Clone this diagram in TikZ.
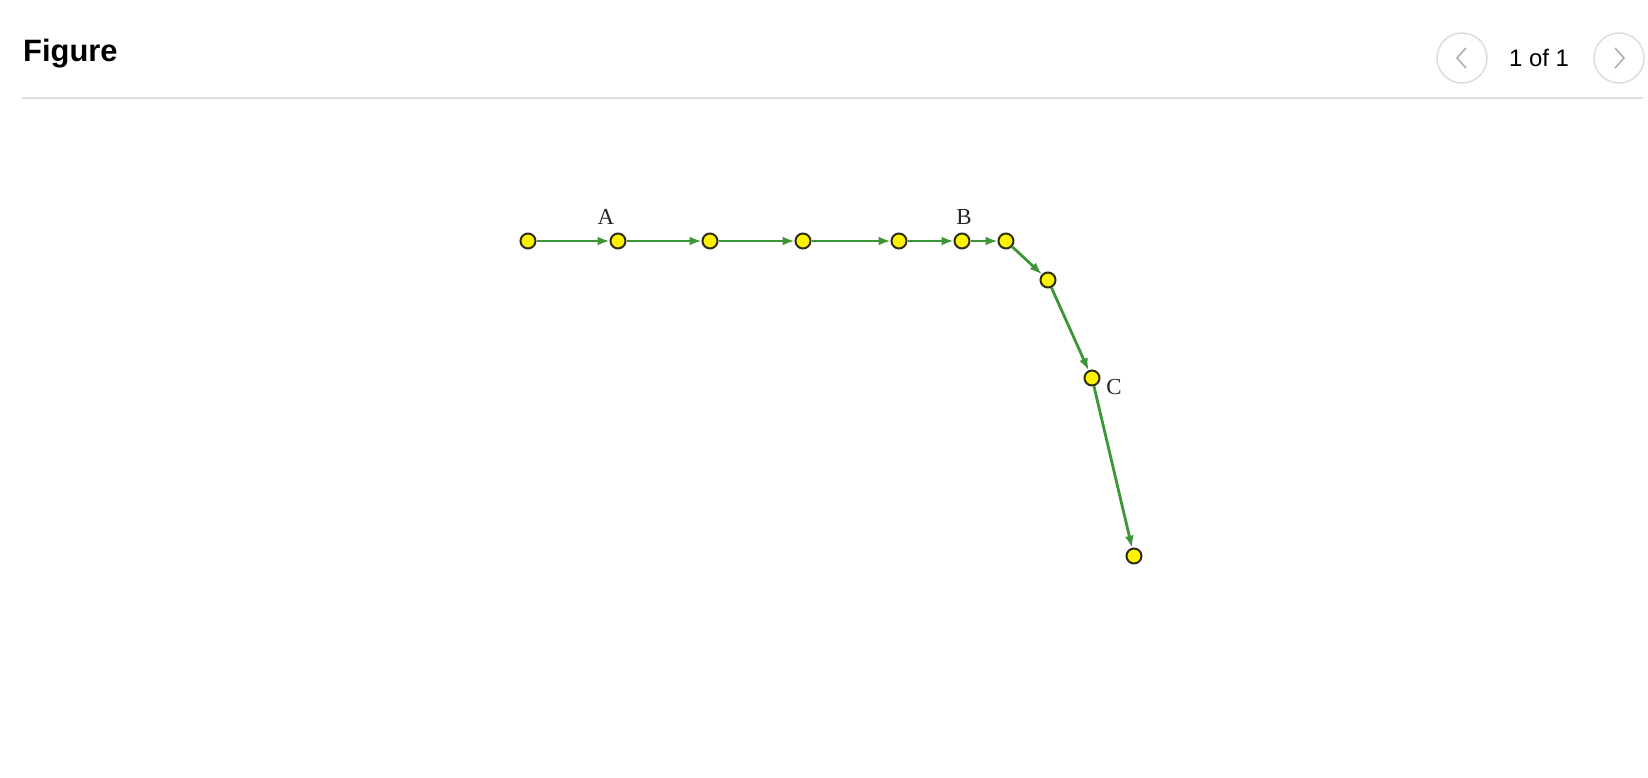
\documentclass[tikz,border=0pt]{standalone}
\usepackage{fontspec}
\setmainfont{Liberation Serif}
\newfontfamily\headfont{Liberation Sans}
\usepackage{tikz}
\usetikzlibrary{positioning,arrows.meta}
\definecolor{routegreen}{RGB}{60,150,56}
\definecolor{stopyellow}{RGB}{255,242,0}
\definecolor{stopedge}{RGB}{45,45,20}
\definecolor{rulegray}{RGB}{221,221,221}
\definecolor{chevgray}{RGB}{175,175,175}
\tikzstyle{waypoint}=[%
      circle, draw=stopedge, line width=2bp, fill=stopyellow,
      inner sep=0pt, minimum size=15bp
]
\tikzstyle{leg}=[%
      draw=routegreen, line width=2.8bp, -{Latex[length=12bp,width=9bp]}
]
\tikzstyle{tag}=[%
      inner sep=0pt, text=black!85, font=\fontsize{23}{23}\selectfont
]
\tikzstyle{pager}=[%
      circle, draw=rulegray, line width=1.5bp, minimum size=50bp, inner sep=0pt
]

\begin{document}
\begin{tikzpicture}[x=1bp, y=-1bp]
    \useasboundingbox[fill=white] (0,0) rectangle (1648,778);

    % header
    \node[anchor=base west, inner sep=0pt, font=\headfont\bfseries\fontsize{31}{31}\selectfont] (title) at (23,62) {Figure};
    \draw[rulegray, line width=1.5bp] (22,98) -- (1643,98);
    \node[pager] (prev) at (1462,58) {};
    \node[pager] (next) at (1619,58) {};
    \node[inner sep=0pt, font=\headfont\fontsize{24}{24}\selectfont] (count) at (1539,58) {1 of 1};
    \draw[chevgray, line width=1.6bp] ([shift={(4,-10)}]prev.center) -- ([shift={(-5,0)}]prev.center) -- ([shift={(4,10)}]prev.center);
    \draw[chevgray, line width=1.6bp] ([shift={(-4,-10)}]next.center) -- ([shift={(5,0)}]next.center) -- ([shift={(-4,10)}]next.center);

    % route
    \node[waypoint] (s1) at (528,241)  {};
    \node[waypoint] (s2) at (618,241)  {};
    \node[waypoint] (s3) at (710,241)  {};
    \node[waypoint] (s4) at (803,241)  {};
    \node[waypoint] (s5) at (899,241)  {};
    \node[waypoint] (s6) at (962,241)  {};
    \node[waypoint] (s7) at (1006,241) {};
    \node[waypoint] (s8) at (1048,280) {};
    \node[waypoint] (s9) at (1092,378) {};
    \node[waypoint] (s10) at (1134,556) {};

    \node[tag] (tA) at (606,217)  {A};
    \node[tag] (tB) at (964,217)  {B};
    \node[tag] (tC) at (1114,387) {C};

    \path (s1) edge[leg] (s2)
          (s2) edge[leg] (s3)
          (s3) edge[leg] (s4)
          (s4) edge[leg] (s5)
          (s5) edge[leg] (s6)
          (s6) edge[leg] (s7)
          (s7) edge[leg] (s8)
          (s8) edge[leg] (s9)
          (s9) edge[leg] (s10)
    ;

\end{tikzpicture}
\end{document}
